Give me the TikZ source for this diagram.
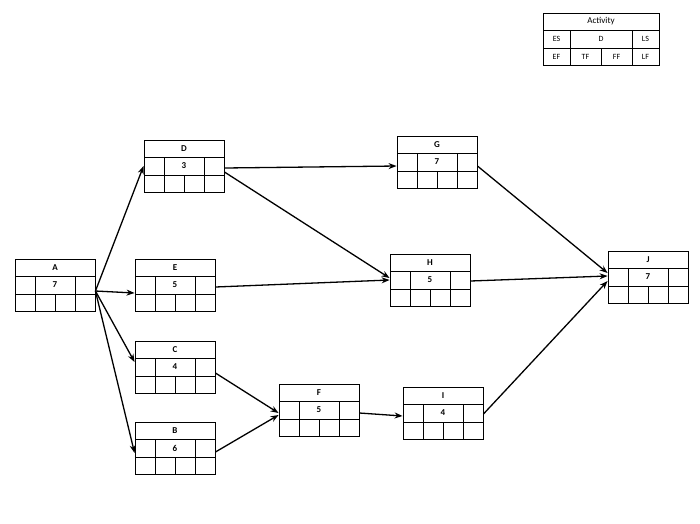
\documentclass[tikz,border=0pt]{standalone}
\usepackage{fontspec}
\setmainfont{Carlito}
\usetikzlibrary{arrows.meta}
\newcommand\actbox[5]{% name, x, y (top-left, px from top), letter, dur
  \node[box] (#1) at (#2pt+40pt,-#3pt-26pt) {};
  \draw[grid] (#2pt,-#3pt-17pt) -- ++(80pt,0pt) (#2pt,-#3pt-35pt) -- ++(80pt,0pt)
    (#2pt+20pt,-#3pt-17pt) -- ++(0,-35pt) (#2pt+60pt,-#3pt-17pt) -- ++(0,-35pt)
    (#2pt+40pt,-#3pt-35pt) -- ++(0,-17pt);
  \node[lbl,font=\bfseries\fontsize{9}{10}\selectfont] (#1t) at (#2pt+40pt,-#3pt-9pt) {#4};
  \node[lbl,font=\bfseries\fontsize{9}{10}\selectfont] (#1d) at (#2pt+40pt,-#3pt-26pt) {#5};
}
\begin{document}
\begin{tikzpicture}[x=1pt,y=1pt,
  box/.style={draw,line width=0.9pt,minimum width=80pt,minimum height=52pt,inner sep=0pt},
  grid/.style={line width=0.8pt},
  lbl/.style={inner sep=0pt},
  arr/.style={-{Stealth[length=8pt,width=6pt]},line width=1.3pt}]
\useasboundingbox (0,0) rectangle (700,-523);
% legend
\node[draw,line width=0.7pt,minimum width=116pt,minimum height=52pt,inner sep=0pt] (leg) at (601,-39) {};
\draw[line width=0.7pt] (543,-30) -- (659,-30) (543,-48) -- (659,-48)
  (570,-30) -- (570,-65) (632,-30) -- (632,-65) (601,-48) -- (601,-65);
\node[lbl,font=\fontsize{9}{10}\selectfont] (l1) at (601,-21.5) {Activity};
\node[lbl,font=\fontsize{8}{10}\selectfont] (l2) at (556.5,-39) {ES};
\node[lbl,font=\fontsize{8}{10}\selectfont] (l3) at (601,-39) {D};
\node[lbl,font=\fontsize{8}{10}\selectfont] (l4) at (645.5,-39) {LS};
\node[lbl,font=\fontsize{8}{10}\selectfont] (l5) at (556.5,-56.5) {EF};
\node[lbl,font=\fontsize{8}{10}\selectfont] (l6) at (585.5,-56.5) {TF};
\node[lbl,font=\fontsize{8}{10}\selectfont] (l7) at (616.5,-56.5) {FF};
\node[lbl,font=\fontsize{8}{10}\selectfont] (l8) at (645.5,-56.5) {LF};
% activities
\actbox{A}{15}{259}{A}{7}
\actbox{D}{144}{140}{D}{3}
\actbox{E}{135}{259}{E}{5}
\actbox{C}{135}{341}{C}{4}
\actbox{B}{135}{422}{B}{6}
\actbox{F}{279}{384}{F}{5}
\actbox{I}{403}{387}{I}{4}
\actbox{G}{397}{136}{G}{7}
\actbox{H}{390}{254}{H}{5}
\actbox{J}{608}{251}{J}{7}
% arrows
\coordinate (a0) at ([yshift=-6pt]A.east);
\draw[arr] (a0) -- ([yshift=0pt]D.west);
\draw[arr] (a0) -- ([yshift=-8pt]E.west);
\draw[arr] (a0) -- ([yshift=5pt]C.west);
\draw[arr] (a0) -- ([yshift=-5pt]B.west);
\draw[arr] ([yshift=-2pt]D.east) -- ([yshift=-4pt]G.west);
\draw[arr] ([yshift=-6pt]D.east) -- ([yshift=2pt]H.west);
\draw[arr] ([yshift=-2pt]E.east) -- ([yshift=0pt]H.west);
\draw[arr] ([yshift=-6pt]C.east) -- ([yshift=-3pt]F.west);
\draw[arr] ([yshift=-4pt]B.east) -- ([yshift=-5pt]F.west);
\draw[arr] ([yshift=-3pt]F.east) -- ([yshift=-3pt]I.west);
\draw[arr] ([yshift=-4pt]G.east) -- ([yshift=4pt]J.west);
\draw[arr] ([yshift=-1pt]H.east) -- ([yshift=1pt]J.west);
\draw[arr] ([yshift=-1pt]I.east) -- ([yshift=-4pt]J.west);
\end{tikzpicture}
\end{document}
